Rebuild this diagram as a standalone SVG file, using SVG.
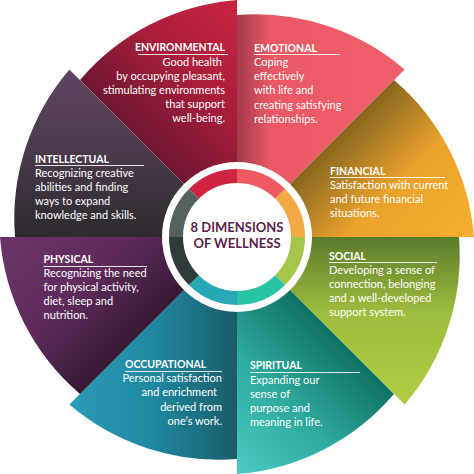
<svg xmlns="http://www.w3.org/2000/svg" width="474" height="474" viewBox="0 0 474 474">
<defs>
<style>
.t{font-family:Lato,"Open Sans",sans-serif;font-weight:700;font-size:10.5px;fill:#fff}
.b{font-family:Lato,"Open Sans",sans-serif;font-size:11px;fill:#fff}
.e{text-anchor:end}
.u{stroke:#fff;stroke-opacity:0.85;stroke-width:1}
.ring{fill:none;stroke-width:14}
.c{font-family:Lato,"Open Sans",sans-serif;font-weight:700;font-size:13px;fill:#5a1f4a;text-anchor:middle}
</style>
<path id="sec" d="M237 237 L237 15 A230 230 0 0 1 404.6 69.4 Z"/>
<linearGradient id="gEnv" x1="0" y1="0" x2="1" y2="0"><stop offset="0" stop-color="#701630"/><stop offset="0.5" stop-color="#aa1e3c"/><stop offset="1" stop-color="#c9253f"/></linearGradient>
<linearGradient id="gEmo" x1="0" y1="0" x2="1" y2="0"><stop offset="0" stop-color="#a53a4b"/><stop offset="0.2" stop-color="#ea5865"/><stop offset="1" stop-color="#f0606a"/></linearGradient>
<linearGradient id="gFin" x1="0" y1="0" x2="1" y2="0"><stop offset="0" stop-color="#86661f"/><stop offset="0.45" stop-color="#eaa22c"/><stop offset="1" stop-color="#f6ae2d"/></linearGradient>
<linearGradient id="gSoc" x1="0" y1="0" x2="1" y2="0"><stop offset="0" stop-color="#5c7a2b"/><stop offset="0.45" stop-color="#9dbd3d"/><stop offset="1" stop-color="#afcc43"/></linearGradient>
<linearGradient id="gSpi" x1="0" y1="0" x2="1" y2="0"><stop offset="0" stop-color="#0f7262"/><stop offset="0.5" stop-color="#2eab9f"/><stop offset="1" stop-color="#4dcbc3"/></linearGradient>
<linearGradient id="gOcc" x1="0" y1="0" x2="1" y2="0"><stop offset="0" stop-color="#1a5c68"/><stop offset="0.5" stop-color="#1f88a0"/><stop offset="1" stop-color="#2b9bb6"/></linearGradient>
<linearGradient id="gPhy" x1="0" y1="0" x2="1" y2="0"><stop offset="0" stop-color="#361a33"/><stop offset="0.45" stop-color="#5e2a5c"/><stop offset="1" stop-color="#6c3569"/></linearGradient>
<linearGradient id="gInt" x1="0" y1="0" x2="1" y2="0"><stop offset="0" stop-color="#2c2a2e"/><stop offset="0.5" stop-color="#4a3a4b"/><stop offset="1" stop-color="#5e4660"/></linearGradient>
</defs>
<rect width="474" height="474" fill="#fff"/>

<g id="environmental">
<use href="#sec" fill="url(#gEnv)" transform="rotate(-45 237 237)"/>
<text class="t e" x="225" y="51">ENVIRONMENTAL</text>
<line class="u" x1="138" y1="54.5" x2="228" y2="54.5"/>
<text class="b e" x="225"><tspan x="222" y="66">Good health</tspan><tspan x="225" y="80">by occupying pleasant,</tspan><tspan x="225" y="94">stimulating environments</tspan><tspan x="225" y="108">that support</tspan><tspan x="225" y="122">well-being.</tspan></text>
</g>

<g id="emotional">
<use href="#sec" fill="url(#gEmo)"/>
<text class="t" x="254" y="52">EMOTIONAL</text>
<line class="u" x1="254" y1="54.5" x2="340" y2="54.5"/>
<text class="b"><tspan x="254" y="66">Coping</tspan><tspan x="254" y="80">effectively</tspan><tspan x="254" y="94.3">with life and</tspan><tspan x="254" y="108.6">creating satisfying</tspan><tspan x="254" y="122.8">relationships.</tspan></text>
</g>

<g id="financial">
<use href="#sec" fill="url(#gFin)" transform="rotate(45 237 237)"/>
<text class="t" x="330" y="174.5">FINANCIAL</text>
<line class="u" x1="330" y1="177.5" x2="445" y2="177.5"/>
<text class="b"><tspan x="330" y="188.5">Satisfaction with current</tspan><tspan x="330" y="202.7">and future financial</tspan><tspan x="330" y="216.8">situations.</tspan></text>
</g>

<g id="social">
<use href="#sec" fill="url(#gSoc)" transform="rotate(90 237 237)"/>
<text class="t" x="329" y="259.5">SOCIAL</text>
<line class="u" x1="329" y1="262.5" x2="437" y2="262.5"/>
<text class="b"><tspan x="329" y="274">Developing a sense of</tspan><tspan x="329" y="288">connection, belonging</tspan><tspan x="329" y="302">and a well-developed</tspan><tspan x="329" y="316.3">support system.</tspan></text>
</g>

<g id="spiritual">
<use href="#sec" fill="url(#gSpi)" transform="rotate(135 237 237)"/>
<text class="t" x="250" y="369">SPIRITUAL</text>
<line class="u" x1="250" y1="372.5" x2="360" y2="372.5"/>
<text class="b"><tspan x="250" y="384">Expanding our</tspan><tspan x="250" y="398">sense of</tspan><tspan x="250" y="412">purpose and</tspan><tspan x="250" y="426.3">meaning in life.</tspan></text>
</g>

<g id="occupational">
<use href="#sec" fill="url(#gOcc)" transform="rotate(180 237 237)"/>
<text class="t" x="125" y="368">OCCUPATIONAL</text>
<line class="u" x1="125" y1="371.5" x2="222" y2="371.5"/>
<text class="b e"><tspan x="222" y="382.3">Personal satisfaction</tspan><tspan x="217" y="396.4">and enrichment</tspan><tspan x="222" y="410.5">derived from</tspan><tspan x="222" y="424.7">one’s work.</tspan></text>
</g>

<g id="physical">
<use href="#sec" fill="url(#gPhy)" transform="rotate(225 237 237)"/>
<text class="t" x="43.5" y="263">PHYSICAL</text>
<line class="u" x1="43.5" y1="266.5" x2="147" y2="266.5"/>
<text class="b"><tspan x="43.5" y="276.5">Recognizing the need</tspan><tspan x="43.5" y="290.5">for physical activity,</tspan><tspan x="43.5" y="304.7">diet, sleep and</tspan><tspan x="43.5" y="318.8">nutrition.</tspan></text>
</g>

<g id="intellectual">
<use href="#sec" fill="url(#gInt)" transform="rotate(270 237 237)"/>
<text class="t" x="35" y="162.5">INTELLECTUAL</text>
<line class="u" x1="35" y1="165.5" x2="144" y2="165.5"/>
<text class="b"><tspan x="35" y="177">Recognizing creative</tspan><tspan x="35" y="191">abilities and finding</tspan><tspan x="35" y="205">ways to expand</tspan><tspan x="35" y="219">knowledge and skills.</tspan></text>
</g>

<g id="center">
<circle cx="237" cy="237" r="75" fill="#fff"/>
<path class="ring" stroke="#cf2440" d="M193.87 193.87 A61 61 0 0 1 237 176"/>
<path class="ring" stroke="#ef5a60" d="M237 176 A61 61 0 0 1 280.13 193.87"/>
<path class="ring" stroke="#f3aa45" d="M280.13 193.87 A61 61 0 0 1 298 237"/>
<path class="ring" stroke="#a6c64a" d="M298 237 A61 61 0 0 1 280.13 280.13"/>
<path class="ring" stroke="#26c4a4" d="M280.13 280.13 A61 61 0 0 1 237 298"/>
<path class="ring" stroke="#26a9b5" d="M237 298 A61 61 0 0 1 193.87 280.13"/>
<path class="ring" stroke="#2f3a3a" d="M193.87 280.13 A61 61 0 0 1 176 237"/>
<path class="ring" stroke="#56625e" d="M176 237 A61 61 0 0 1 193.87 193.87"/>
<text class="c" x="237" y="232">8 DIMENSIONS</text>
<text class="c" x="237" y="248">OF WELLNESS</text>
</g>
</svg>
